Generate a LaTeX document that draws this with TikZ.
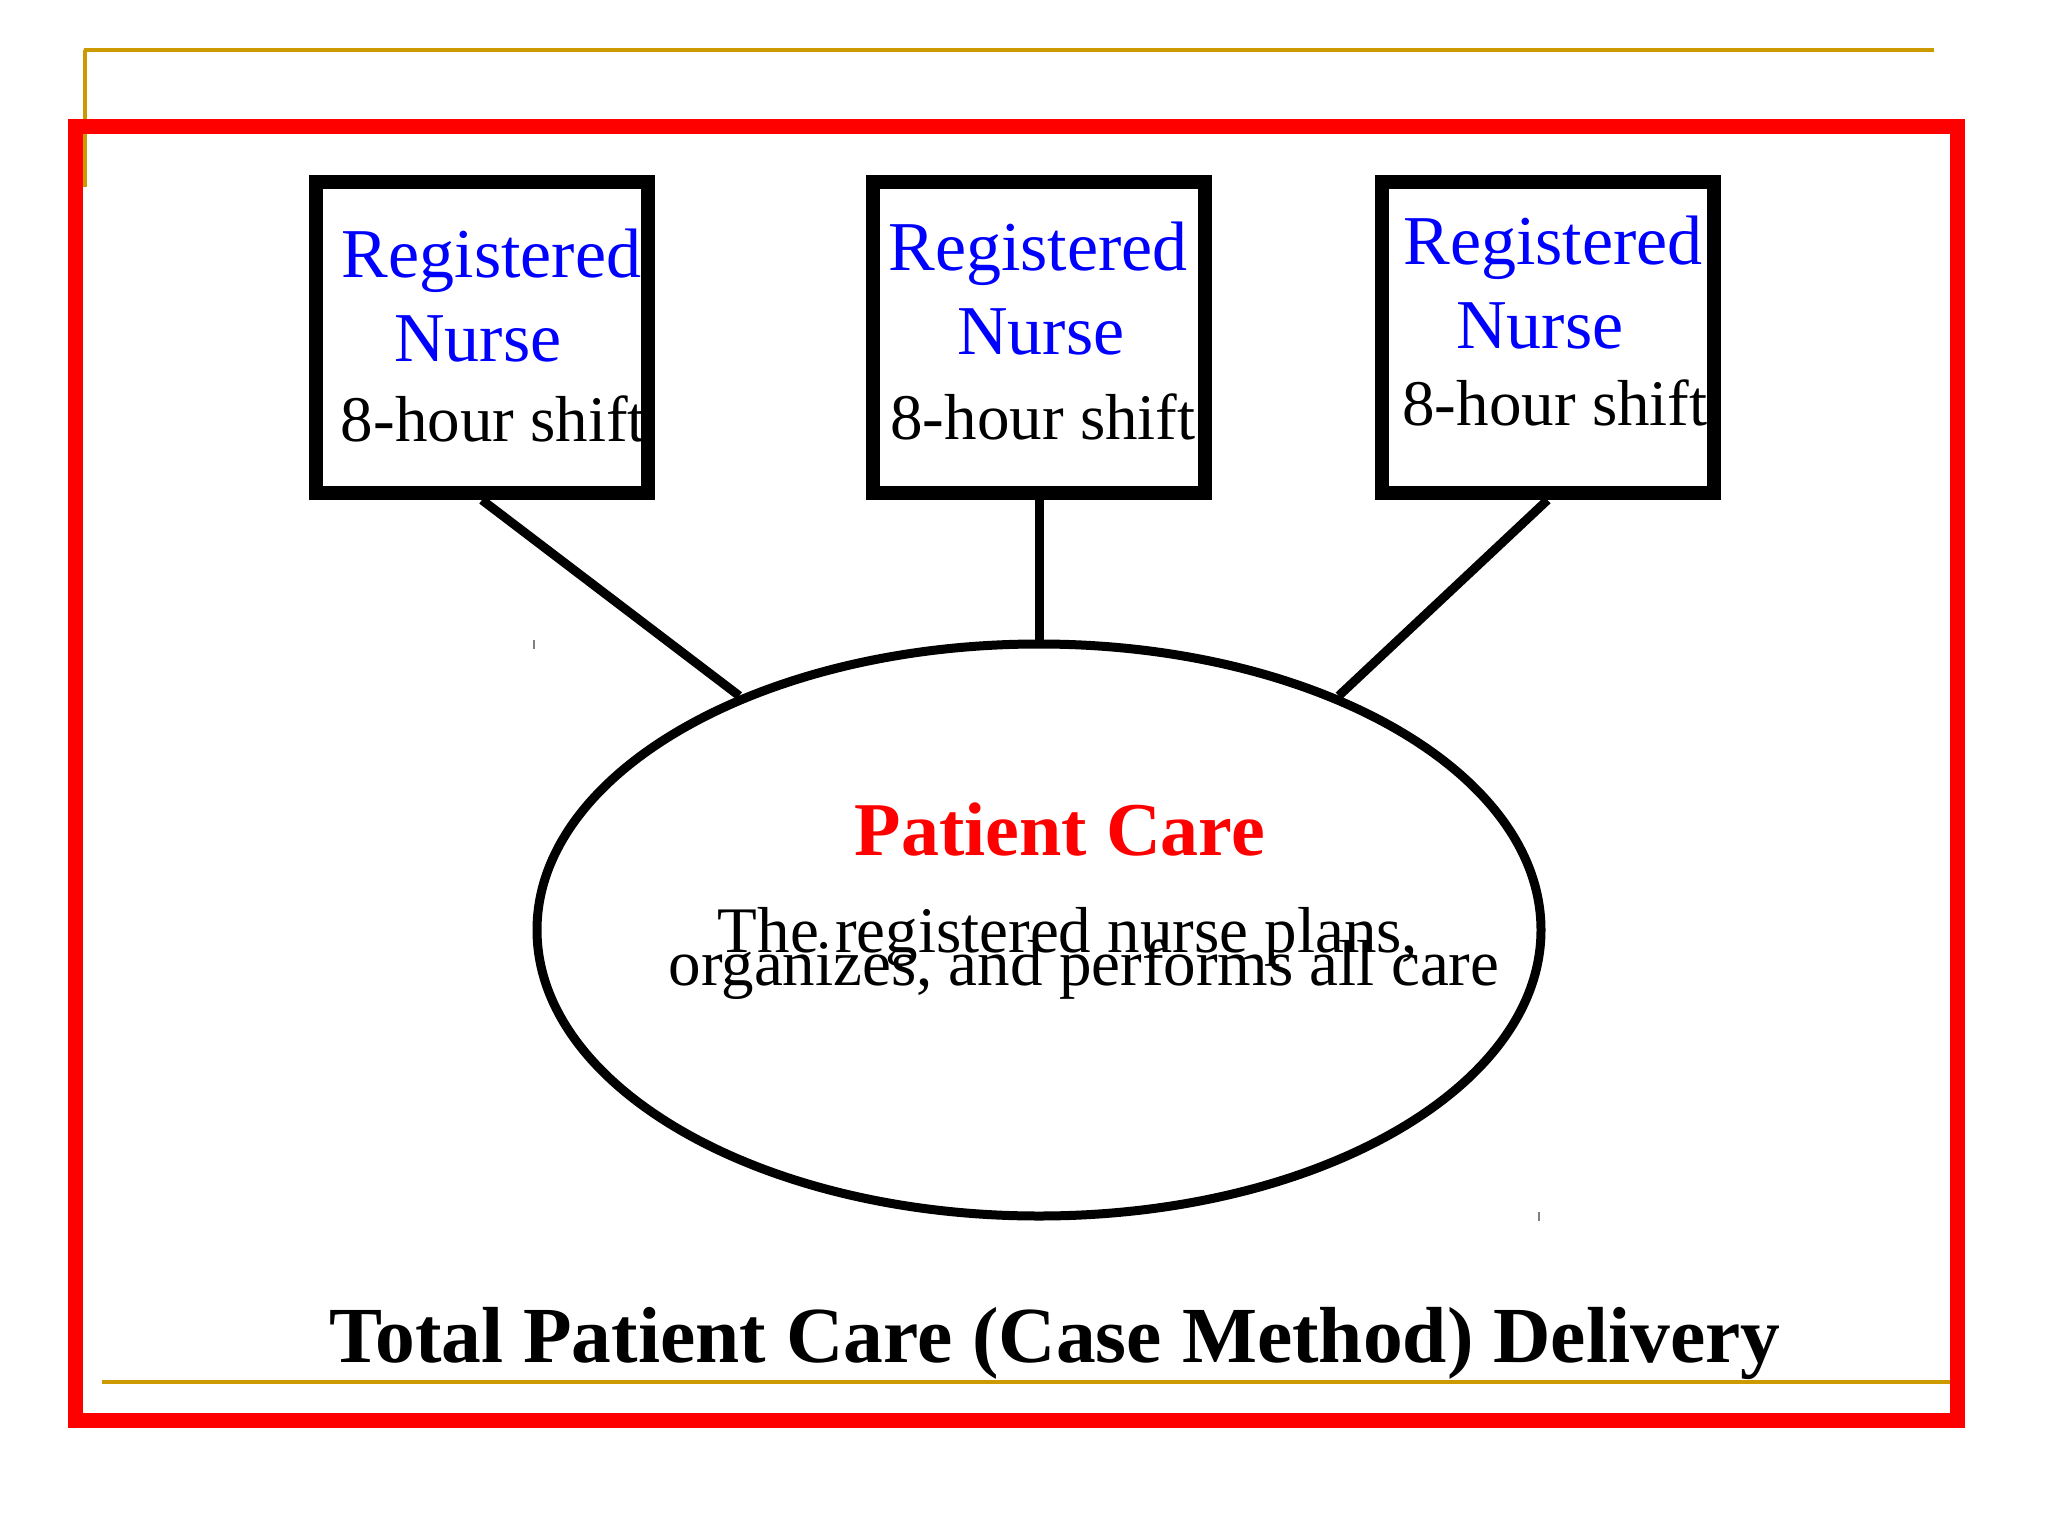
\documentclass[tikz,border=0pt]{standalone}
\usepackage{fontspec}
\setmainfont{Liberation Serif}
\usetikzlibrary{shapes.geometric}
\definecolor{goldline}{RGB}{204,153,0}
\definecolor{rnblue}{RGB}{0,0,255}
\definecolor{pcred}{RGB}{255,0,0}
\begin{document}
\begin{tikzpicture}[x=1pt,y=-1pt,
  rnbox/.style={draw=black,line width=14pt,rectangle,minimum width=332pt,minimum height=311pt,inner sep=0pt},
  rntext/.style={anchor=base,inner sep=0pt,text=rnblue,font=\fontsize{70}{84}\selectfont},
  shifttext/.style={anchor=base,inner sep=0pt,text=black,font=\fontsize{65}{78}\selectfont},
  bodytext/.style={anchor=base,inner sep=0pt,text=black,font=\fontsize{65}{78}\selectfont},
  pctitle/.style={anchor=base,inner sep=0pt,text=pcred,font=\fontsize{76}{90}\selectfont\bfseries},
  slidetitle/.style={anchor=base,inner sep=0pt,text=black,font=\fontsize{79.5}{95}\selectfont\bfseries},
  goldrule/.style={draw=goldline,line width=3.5pt},
  redframe/.style={draw=pcred,line width=15pt},
  connector/.style={draw=black,line width=9pt},
  tick/.style={draw=gray,line width=1.5pt}
]
\fill[white] (0,0) rectangle (2048,1536);
\useasboundingbox (0,0) rectangle (2048,1536);

% gold rules
\coordinate (g1) at (84,50);
\coordinate (g2) at (1934,50);
\coordinate (g3) at (85,187);
\coordinate (g4) at (102,1382);
\coordinate (g5) at (1950,1382);
\draw[goldrule] (g2) -- (g1) -- (85,50) -- (g3);
\draw[goldrule] (g4) -- (g5);

% red frame
\coordinate (r1) at (75,127);
\coordinate (r2) at (1957,1420);
\draw[redframe] (r1) rectangle (r2);

% texts in boxes
\node[rntext] (t1a) at (491.5,277) {Registered};
\node[rntext] (t1b) at (478,361) {Nurse};
\node[shifttext] (t1c) at (493.5,441) {8-hour shift};
\node[rntext] (t2a) at (1038,270) {Registered};
\node[rntext] (t2b) at (1041,354) {Nurse};
\node[shifttext] (t2c) at (1043,439) {8-hour shift};
\node[rntext] (t3a) at (1553,264) {Registered};
\node[rntext] (t3b) at (1540,348) {Nurse};
\node[shifttext] (t3c) at (1555,425) {8-hour shift};

% boxes
\node[rnbox] (rn1) at (482,337.5) {};
\node[rnbox] (rn2) at (1039,337.5) {};
\node[rnbox] (rn3) at (1547.5,337.5) {};

% ellipse
\node[ellipse,draw=black,line width=9pt,minimum width=1004pt,minimum height=572pt,inner sep=0pt] (pc) at (1039,930) {};
\node[pctitle] (pct) at (1060,855) {Patient Care};
\node[bodytext] (pcb1) at (1068,952) {The registered nurse plans,};
\node[bodytext] (pcb2) at (1084,985) {organizes, and performs all care};

% connectors
\draw[connector] (rn1.south) -- (pc.142);
\draw[connector] (rn2.south) -- (pc.north);
\draw[connector] (rn3.south) -- (pc.38);

% small ticks
\coordinate (k1) at (534,640);
\coordinate (k2) at (534,649);
\coordinate (k3) at (1539,1212);
\coordinate (k4) at (1539,1221);
\draw[tick] (k1) -- (k2);
\draw[tick] (k3) -- (k4);

% title
\node[slidetitle] (title) at (1055,1362) {Total Patient Care (Case Method) Delivery};
\end{tikzpicture}
\end{document}
